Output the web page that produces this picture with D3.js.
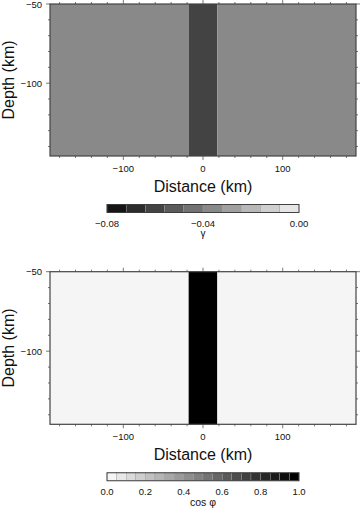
<!DOCTYPE html>
<html>
<head>
<meta charset="utf-8">
<script src="https://d3js.org/d3.v7.min.js"></script>
<style>
  body { margin: 0; background: #fff; }
  text { font-family: "Liberation Sans", Arial, sans-serif; fill: #111; }
</style>
</head>
<body>
<div id="chart"></div>
<script>
// model columns: distance edges (km) and the value in each column
var segEdges = [-192, -18, 18, 192];
var gammaSeg = [-0.036, -0.06, -0.036];
var cosSeg = [0.02, 1.0, 0.02];

var depthDomain = [-146, -50];
var distTicks = [-100, 0, 100];
var depthTicks = [-50, -100];

// colour bars
var gammaDomain = [-0.08, 0.0];
var gammaSteps = 10;
var gammaTicks = [-0.08, -0.04, 0.00];
var cosDomain = [0, 1];
var cosSteps = 20;
var cosTicks = [0.0, 0.2, 0.4, 0.6, 0.8, 1.0];

var W = 360, H = 510;
var left = 50, right = 356;

var svg = d3.select("#chart").append("svg")
  .attr("width", W).attr("height", H);

var x = d3.scaleLinear().domain([segEdges[0], segEdges[segEdges.length - 1]]).range([left, right]);

function quantColors(n, c0, c1) {
  var interp = d3.interpolateRgb(c0, c1);
  return d3.range(n).map(function(i) { return interp(i / (n - 1)); });
}

function panel(top, bottom, values, color, cbar) {
  var y = d3.scaleLinear().domain(depthDomain).range([bottom, top]);
  var g = svg.append("g");

  var cols = values.map(function(v, i) { return { x0: segEdges[i], x1: segEdges[i + 1], v: v }; });
  g.selectAll("rect.col").data(cols).enter().append("rect")
    .attr("class", "col")
    .attr("x", function(d) { return x(d.x0); })
    .attr("width", function(d) { return x(d.x1) - x(d.x0); })
    .attr("y", top)
    .attr("height", bottom - top)
    .attr("fill", function(d) { return color(d.v); });

  // ticks, GMT style (major + minor, outward on all sides)
  var tickCol = "#555";
  var minorX = d3.range(-180, 181, 20), minorY = d3.range(-140, -49, 10);
  var ax = g.append("g").attr("stroke", tickCol).attr("stroke-width", 0.8);
  minorX.forEach(function(t) {
    var len = (t % 100 === 0) ? 4 : 2;
    ax.append("line").attr("x1", x(t)).attr("x2", x(t)).attr("y1", bottom).attr("y2", bottom + len);
    ax.append("line").attr("x1", x(t)).attr("x2", x(t)).attr("y1", top).attr("y2", top - len);
  });
  minorY.forEach(function(t) {
    var len = (t % 50 === 0) ? 4 : 2;
    ax.append("line").attr("y1", y(t)).attr("y2", y(t)).attr("x1", left).attr("x2", left - len);
    ax.append("line").attr("y1", y(t)).attr("y2", y(t)).attr("x1", right).attr("x2", right + len);
  });

  g.append("rect")
    .attr("x", left).attr("y", top)
    .attr("width", right - left).attr("height", bottom - top)
    .attr("fill", "none").attr("stroke", "#444").attr("stroke-width", 1.2);

  var fmt = d3.format("d");
  g.selectAll("text.xt").data(distTicks).enter().append("text")
    .attr("x", function(d) { return x(d); })
    .attr("y", bottom + 15.5)
    .attr("text-anchor", "middle")
    .style("font-size", "9.5px")
    .text(fmt);

  g.selectAll("text.yt").data(depthTicks).enter().append("text")
    .attr("x", left - 8)
    .attr("y", function(d) { return y(d) + 3.5; })
    .attr("text-anchor", "end")
    .style("font-size", "9.5px")
    .text(fmt);

  g.append("text")
    .attr("x", (left + right) / 2)
    .attr("y", bottom + 36)
    .attr("text-anchor", "middle")
    .style("font-size", "16px")
    .text("Distance (km)");

  g.append("text")
    .attr("transform", "translate(13.5," + ((top + bottom) / 2) + ") rotate(-90)")
    .attr("text-anchor", "middle")
    .style("font-size", "16px")
    .text("Depth (km)");

  // colour bar
  var cb = cbar;
  var cy = bottom + 48.5, ch = 8;
  var cx = d3.scaleLinear().domain(cb.domain).range([107, 299]);
  var step = (cb.domain[1] - cb.domain[0]) / cb.steps;
  var bins = d3.range(cb.steps).map(function(i) { return cb.domain[0] + i * step; });
  g.selectAll("rect.cb").data(bins).enter().append("rect")
    .attr("x", function(d) { return cx(d); })
    .attr("width", function(d) { return cx(d + step) - cx(d); })
    .attr("y", cy).attr("height", ch)
    .attr("fill", function(d) { return color(d + step / 2); })
    .attr("stroke", "#999").attr("stroke-width", 0.4);
  g.append("rect")
    .attr("x", 107).attr("y", cy).attr("width", 192).attr("height", ch)
    .attr("fill", "none").attr("stroke", "#333").attr("stroke-width", 0.9);
  g.selectAll("text.ct").data(cb.ticks).enter().append("text")
    .attr("x", function(d) { return cx(d); })
    .attr("y", cy + 22)
    .attr("text-anchor", "middle")
    .style("font-size", "9.5px")
    .text(d3.format(cb.fmt));
  g.append("text")
    .attr("x", 203)
    .attr("y", cy + cb.titleDy)
    .attr("text-anchor", "middle")
    .style("font-size", cb.titleSize)
    .text(cb.title);
}

var gammaColor = d3.scaleQuantize().domain(gammaDomain).range(quantColors(gammaSteps, "#151515", "#e6e6e6"));
var cosColor = d3.scaleQuantize().domain(cosDomain).range(quantColors(cosSteps, "#f5f5f5", "#000000"));

panel(4, 156, gammaSeg, gammaColor,
  { domain: gammaDomain, steps: gammaSteps, ticks: gammaTicks, fmt: ".2f", title: "\u03b3", titleDy: 32, titleSize: "10px" });
panel(271.7, 424.3, cosSeg, cosColor,
  { domain: cosDomain, steps: cosSteps, ticks: cosTicks, fmt: ".1f", title: "cos \u03c6", titleDy: 33.5, titleSize: "10.5px" });
</script>
</body>
</html>
